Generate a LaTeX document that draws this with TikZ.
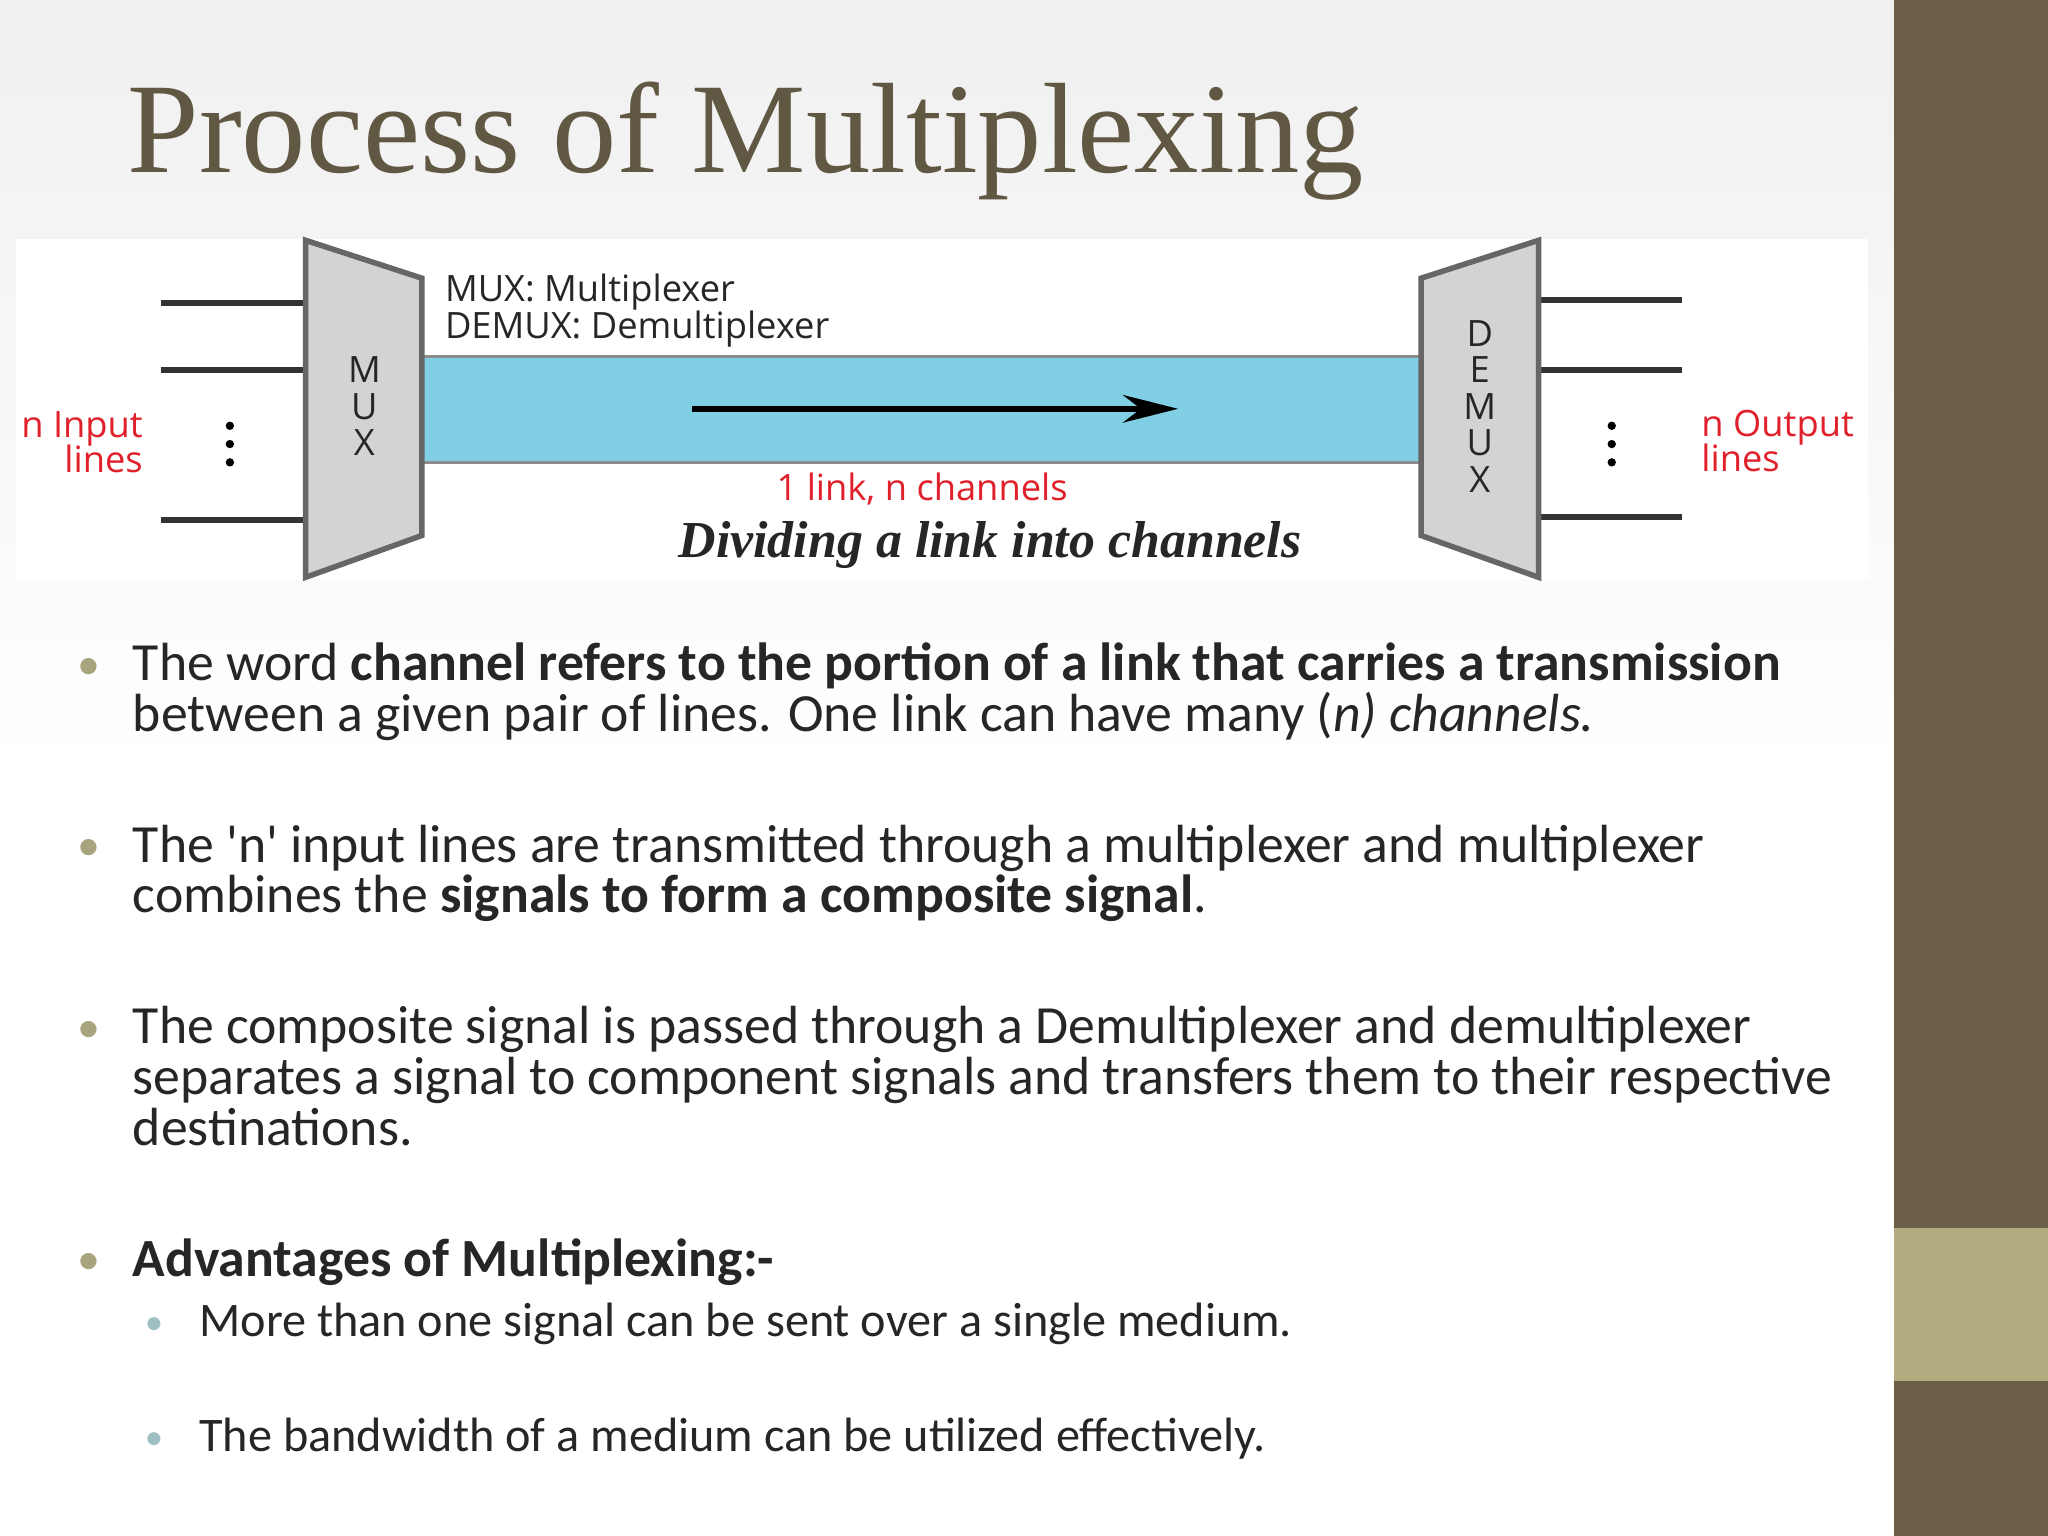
\documentclass[tikz,border=0pt]{standalone}
\usepackage{fontspec}
\setmainfont{Carlito}
\newfontfamily\serif{Liberation Serif}
\newfontfamily\dsans{Open Sans}
\usetikzlibrary{arrows.meta}
\definecolor{olive}{HTML}{6B5F48}
\definecolor{lolive}{HTML}{B3AC80}
\definecolor{titlec}{HTML}{605842}
\definecolor{chan}{HTML}{80CFE5}
\definecolor{boxg}{HTML}{D3D3D5}
\definecolor{txt}{HTML}{262626}
\definecolor{bul}{HTML}{A8A47E}
\definecolor{sbul}{HTML}{9FC0C2}
\definecolor{redt}{HTML}{E0202A}
\begin{document}
\begin{tikzpicture}[x=0.01cm,y=-0.01cm,
  body/.style={anchor=base west,inner sep=0,font=\fontsize{11.7pt}{13pt}\selectfont,text=txt},
  sbody/.style={anchor=base west,inner sep=0,font=\fontsize{10.5pt}{12pt}\selectfont,text=txt},
  bl/.style={anchor=base,inner sep=0,text=bul,font=\fontsize{10pt}{12pt}\selectfont},
  sbl/.style={anchor=base,inner sep=0,text=sbul,font=\fontsize{8pt}{10pt}\selectfont},
  dl/.style={anchor=base,inner sep=0,font=\dsans\fontsize{7.9pt}{9pt}\selectfont,text=black!85},
  rl/.style={inner sep=0,font=\dsans\fontsize{7.9pt}{9pt}\selectfont,text=redt},
  ln/.style={line width=1.3pt,black!80},
  dev/.style={fill=boxg,draw=black!60,line width=1.2pt}]
\useasboundingbox (0,0) rectangle (1568,1176);
\shade[top color=gray!12,bottom color=white,middle color=white] (0,0) rectangle (1450,1176);
\fill[olive] (1450,0) rectangle (1568,1176);
\fill[lolive] (1450,940) rectangle (1568,1057);
\fill[white] (12,183) rectangle (1430,443);
\node[anchor=base west,inner sep=0,text=titlec,font=\serif\fontsize{28pt}{30pt}\selectfont] (title) at (97,132) {Process of Multiplexing};
% channel
\fill[chan,draw=black!45,line width=0.8pt] (323,273) rectangle (1088,354);
\coordinate (a1) at (530,313); \coordinate (a2) at (902,313);
\draw[line width=1.4pt,-{Stealth[length=12pt,width=6pt]}] (a1) -- (a2);
% lines
\foreach \y in {232,283,398}{\draw[ln] (123,\y) -- (234,\y);}
\foreach \y in {230,283,396}{\draw[ln] (1178,\y) -- (1288,\y);}
\foreach \y in {326,340,354}{\fill (176,\y) circle (3.2); \fill (1234,\y) circle (3.2);}
% devices
\draw[dev] (234,184) -- (323,213) -- (323,410) -- (234,442) -- cycle;
\draw[dev] (1088,213) -- (1178,184) -- (1178,442) -- (1088,410) -- cycle;
\node[dl] (m1) at (279,293) {M}; \node[dl] at (279,321) {U}; \node[dl] at (279,349) {X};
\node[dl] at (1133,265) {D}; \node[dl] at (1133,293) {E}; \node[dl] at (1133,321) {M};
\node[dl] at (1133,349) {U}; \node[dl] at (1133,377) {X};
\node[dl,anchor=base west] at (340,231) {MUX: Multiplexer};
\node[dl,anchor=base west] at (340,259) {DEMUX: Demultiplexer};
\node[rl,anchor=base east] at (110,335) {n Input};
\node[rl,anchor=base east] at (110,362) {lines};
\node[rl,anchor=base west] at (1302,334) {n Output};
\node[rl,anchor=base west] at (1302,361) {lines};
\node[rl,anchor=base] at (706,383) {1 link, n channels};
\node[anchor=base,inner sep=0,font=\serif\bfseries\itshape\fontsize{11.3pt}{12pt}\selectfont,text=black!85] at (758,427) {Dividing a link into channels};
% bullets
\foreach \y in {520,659,798,976}{\node[bl] at (68,\y) {•};}
\foreach \y in {1022,1110}{\node[sbl] at (118,\y) {•};}
\node[body] at (101,521) {The word \textbf{channel refers to the portion of a link that carries a transmission}};
\node[body] at (101,560) {between a given pair of lines. One link can have many (\textit{n) channels.}};
\node[body] at (101,660) {The \textquotesingle n\textquotesingle\ input lines are transmitted through a multiplexer and multiplexer};
\node[body] at (101,699) {combines the \textbf{signals to form a composite signal}.};
\node[body] at (101,799) {The composite signal is passed through a Demultiplexer and demultiplexer};
\node[body] at (101,838) {separates a signal to component signals and transfers them to their respective};
\node[body] at (101,877) {destinations.};
\node[body] at (101,977) {\textbf{Advantages of Multiplexing:-}};
\node[sbody] at (152,1023) {More than one signal can be sent over a single medium.};
\node[sbody] at (152,1111) {The bandwidth of a medium can be utilized effectively.};
\end{tikzpicture}
\end{document}
